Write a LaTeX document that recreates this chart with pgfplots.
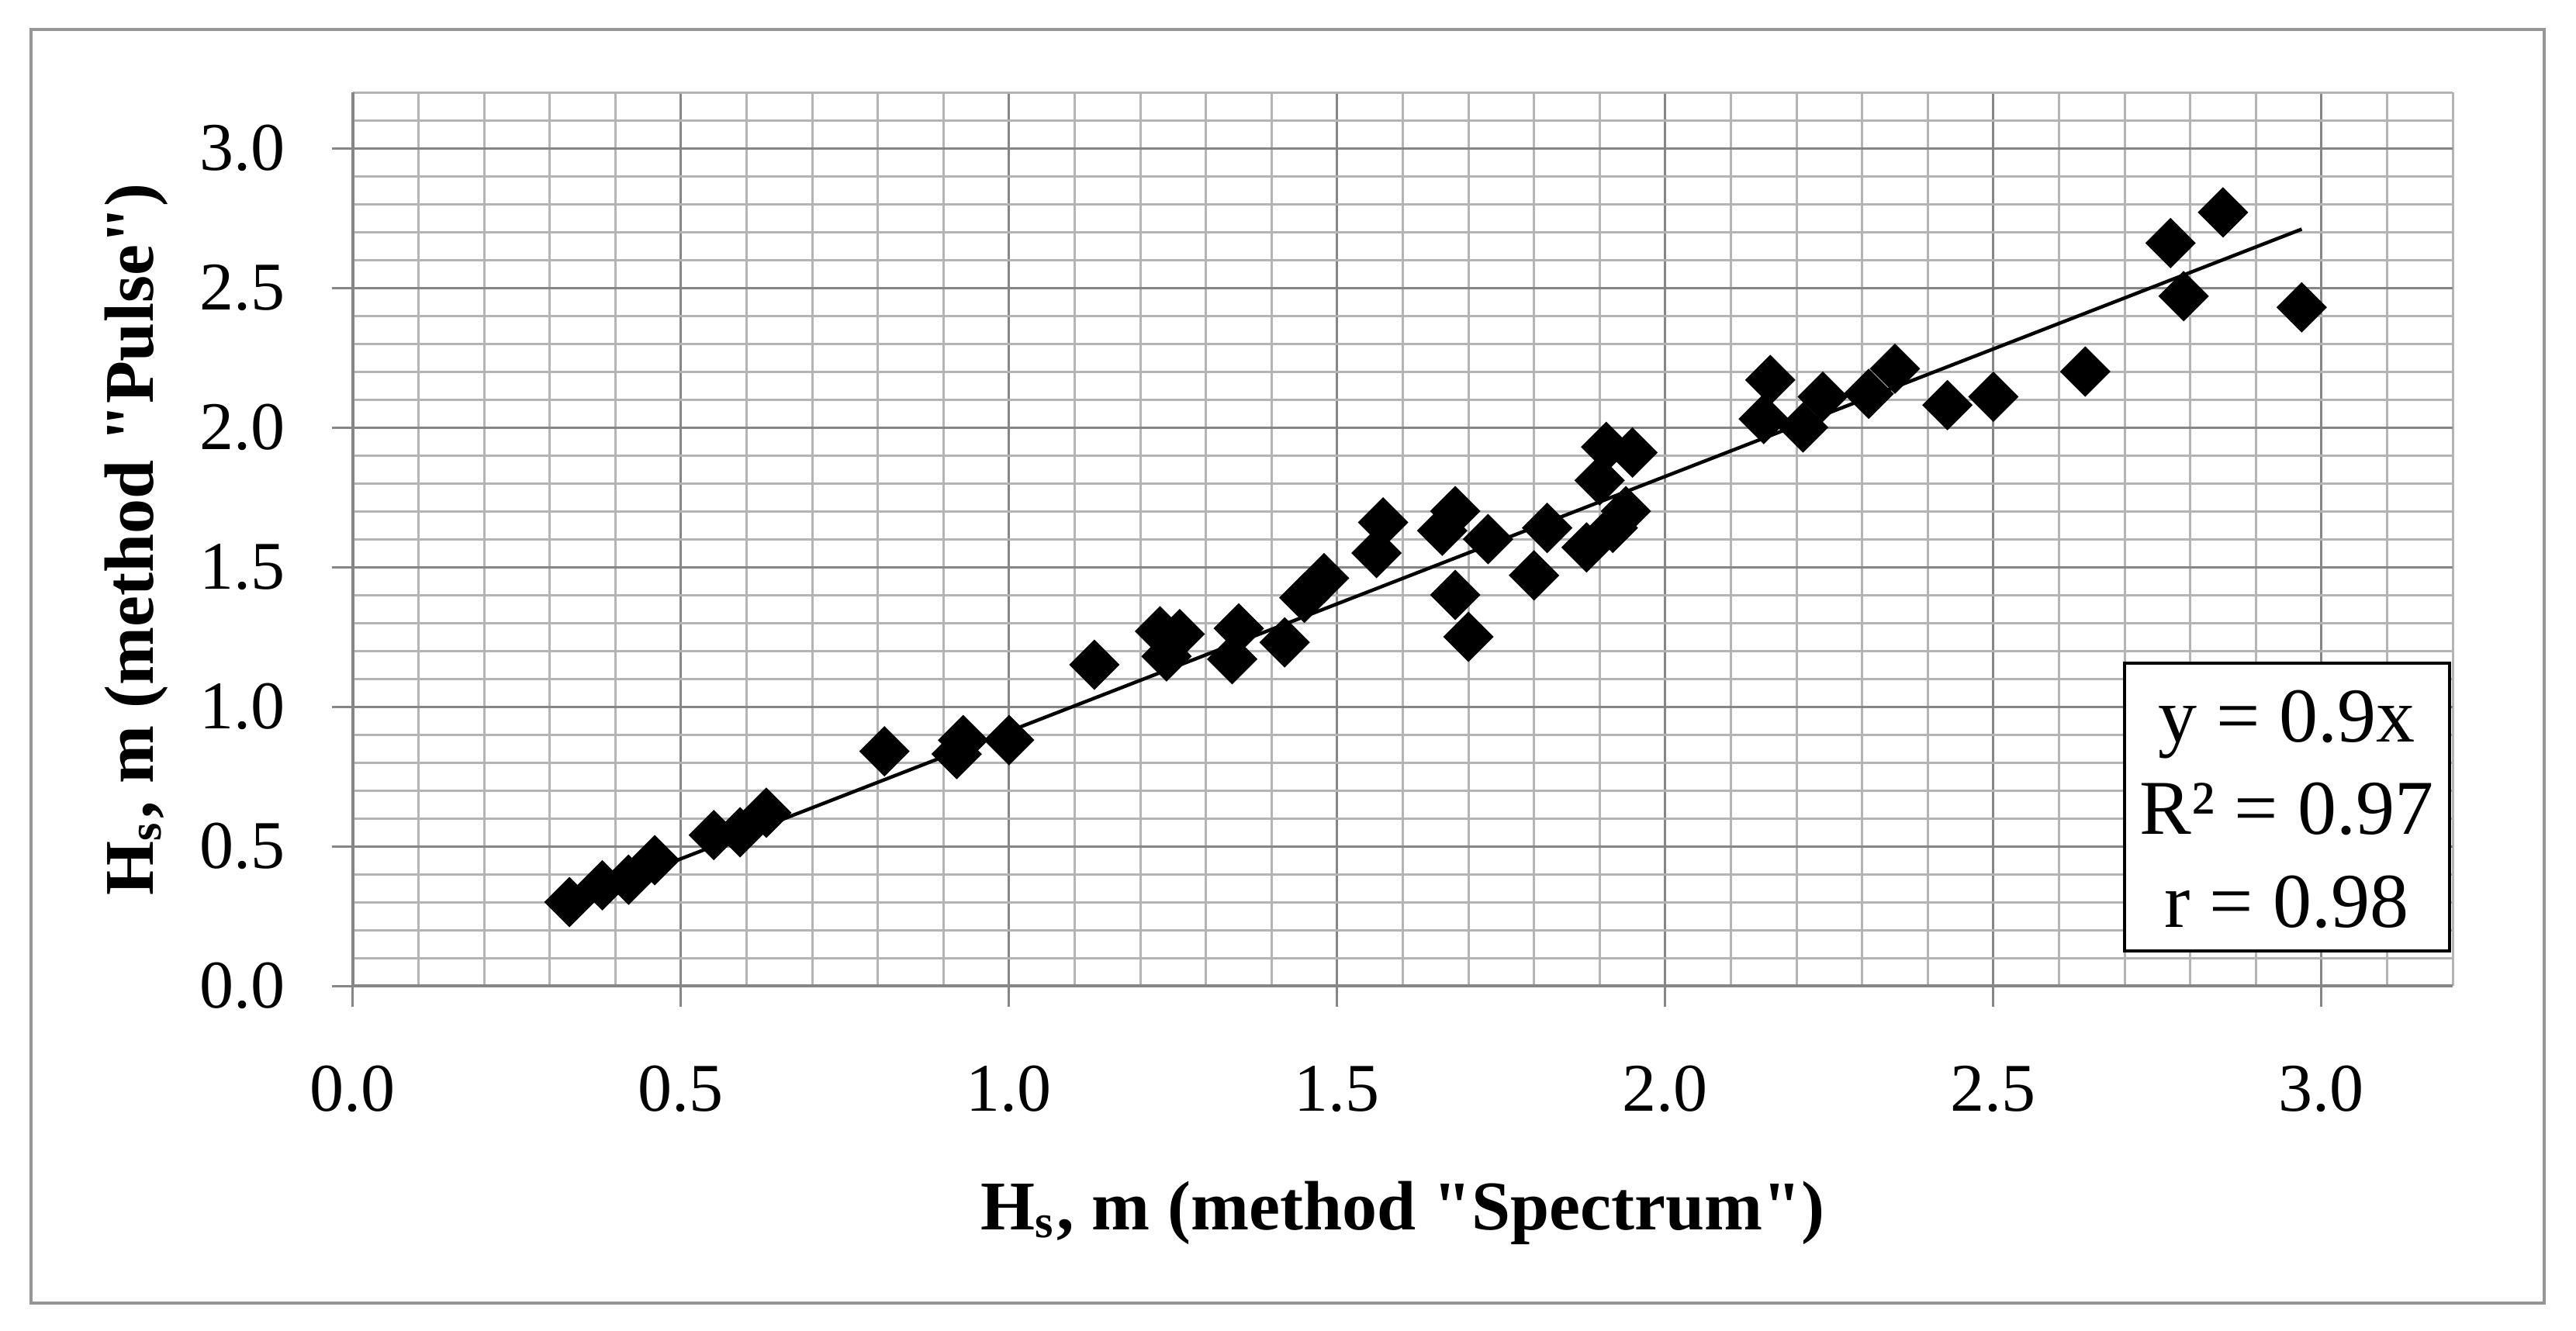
\documentclass[border=0pt]{standalone}
\usepackage{fontspec}
\setmainfont{Liberation Serif}[Ligatures=TeXOff]
\usepackage{pgfplots}
\pgfplotsset{compat=1.18}
\definecolor{majgray}{RGB}{134,134,134}
\definecolor{mingray}{RGB}{180,180,180}
\definecolor{framegray}{RGB}{150,150,150}

\begin{document}
\begin{tikzpicture}[x=1pt,y=1pt]
\path[use as bounding box] (0,0) rectangle (332.1,171.5);
\draw[framegray, line width=0.4pt] (4.0,3.5) rectangle (328.0,167.7);
\begin{axis}[
  at={(45.5pt,44.4pt)}, anchor=south west,
  scale only axis, width=270.7pt, height=115.2pt,
  xmin=0, xmax=3.2, ymin=0, ymax=3.2,
  axis x line*=bottom, axis y line*=left,
  axis line style={-, majgray, line width=0.35pt},
  xtick={0,0.5,1,1.5,2,2.5,3},
  ytick={0,0.5,1,1.5,2,2.5,3},
  minor xtick={0.1,0.2,0.3,0.4,0.6,0.7,0.8,0.9,1.1,1.2,1.3,1.4,1.6,1.7,1.8,1.9,2.1,2.2,2.3,2.4,2.6,2.7,2.8,2.9,3.1,3.2},
  minor ytick={0.1,0.2,0.3,0.4,0.6,0.7,0.8,0.9,1.1,1.2,1.3,1.4,1.6,1.7,1.8,1.9,2.1,2.2,2.3,2.4,2.6,2.7,2.8,2.9,3.1,3.2},
  grid=both,
  major grid style={majgray, line width=0.3pt},
  minor grid style={mingray, line width=0.3pt},
  tick align=outside, major tick length=2.7pt, minor tick length=0pt,
  major tick style={majgray, line width=0.3pt},
  /pgf/number format/.cd, fixed, fixed zerofill, precision=1, assume math mode=true,
  /pgfplots/.cd,
  xticklabel style={font=\fontsize{8.8}{10}\selectfont, anchor=base, inner sep=0pt, yshift=-13.4pt},
  yticklabel style={font=\fontsize{8.8}{10}\selectfont, anchor=east, inner sep=0pt, xshift=-5.8pt},
  xlabel={\textbf{H\textsubscript{s}, m (method "Spectrum")}},
  ylabel={\textbf{H\textsubscript{s}, m (method "Pulse")}},
  xlabel style={at={(axis description cs:0.5,-0.2726)}, anchor=base, font=\fontsize{9}{10}\selectfont, inner sep=0pt},
  ylabel style={at={(axis description cs:-0.0953,0.5)}, anchor=base, font=\fontsize{9}{10}\selectfont, inner sep=0pt},
]
\addplot[black, line width=0.45pt] coordinates {(0.33,0.30) (2.97,2.71)};
\addplot[only marks, mark=square*, mark size=2.1pt,
  mark options={rotate=45, fill=black, draw=black, line width=0.4pt}] table {
x y
0.33 0.30
0.38 0.36
0.42 0.38
0.46 0.45
0.55 0.54
0.59 0.55
0.63 0.62
0.81 0.84
0.92 0.83
0.93 0.88
1.00 0.88
1.13 1.15
1.23 1.27
1.26 1.26
1.24 1.18
1.35 1.28
1.34 1.17
1.42 1.23
1.45 1.39
1.48 1.46
1.57 1.66
1.56 1.55
1.68 1.70
1.66 1.63
1.68 1.40
1.70 1.25
1.73 1.60
1.82 1.64
1.80 1.47
1.88 1.57
1.92 1.64
1.94 1.70
1.90 1.81
1.91 1.93
1.95 1.91
2.16 2.17
2.15 2.03
2.21 2.00
2.24 2.11
2.35 2.21
2.31 2.12
2.43 2.08
2.50 2.11
2.64 2.20
2.77 2.66
2.85 2.77
2.79 2.47
2.97 2.43
};
\draw[black, line width=0.45pt, fill=white] (axis cs:2.7,0.125) rectangle (axis cs:3.195,1.155);
\node[font=\fontsize{10}{12}\selectfont, anchor=base, inner sep=0pt] at (axis cs:2.947,0.875) {y = 0.9x};
\node[font=\fontsize{10}{12}\selectfont, anchor=base, inner sep=0pt] at (axis cs:2.947,0.542) {R² = 0.97};
\node[font=\fontsize{10}{12}\selectfont, anchor=base, inner sep=0pt] at (axis cs:2.947,0.211) {r = 0.98};
\end{axis}
\end{tikzpicture}
\end{document}
